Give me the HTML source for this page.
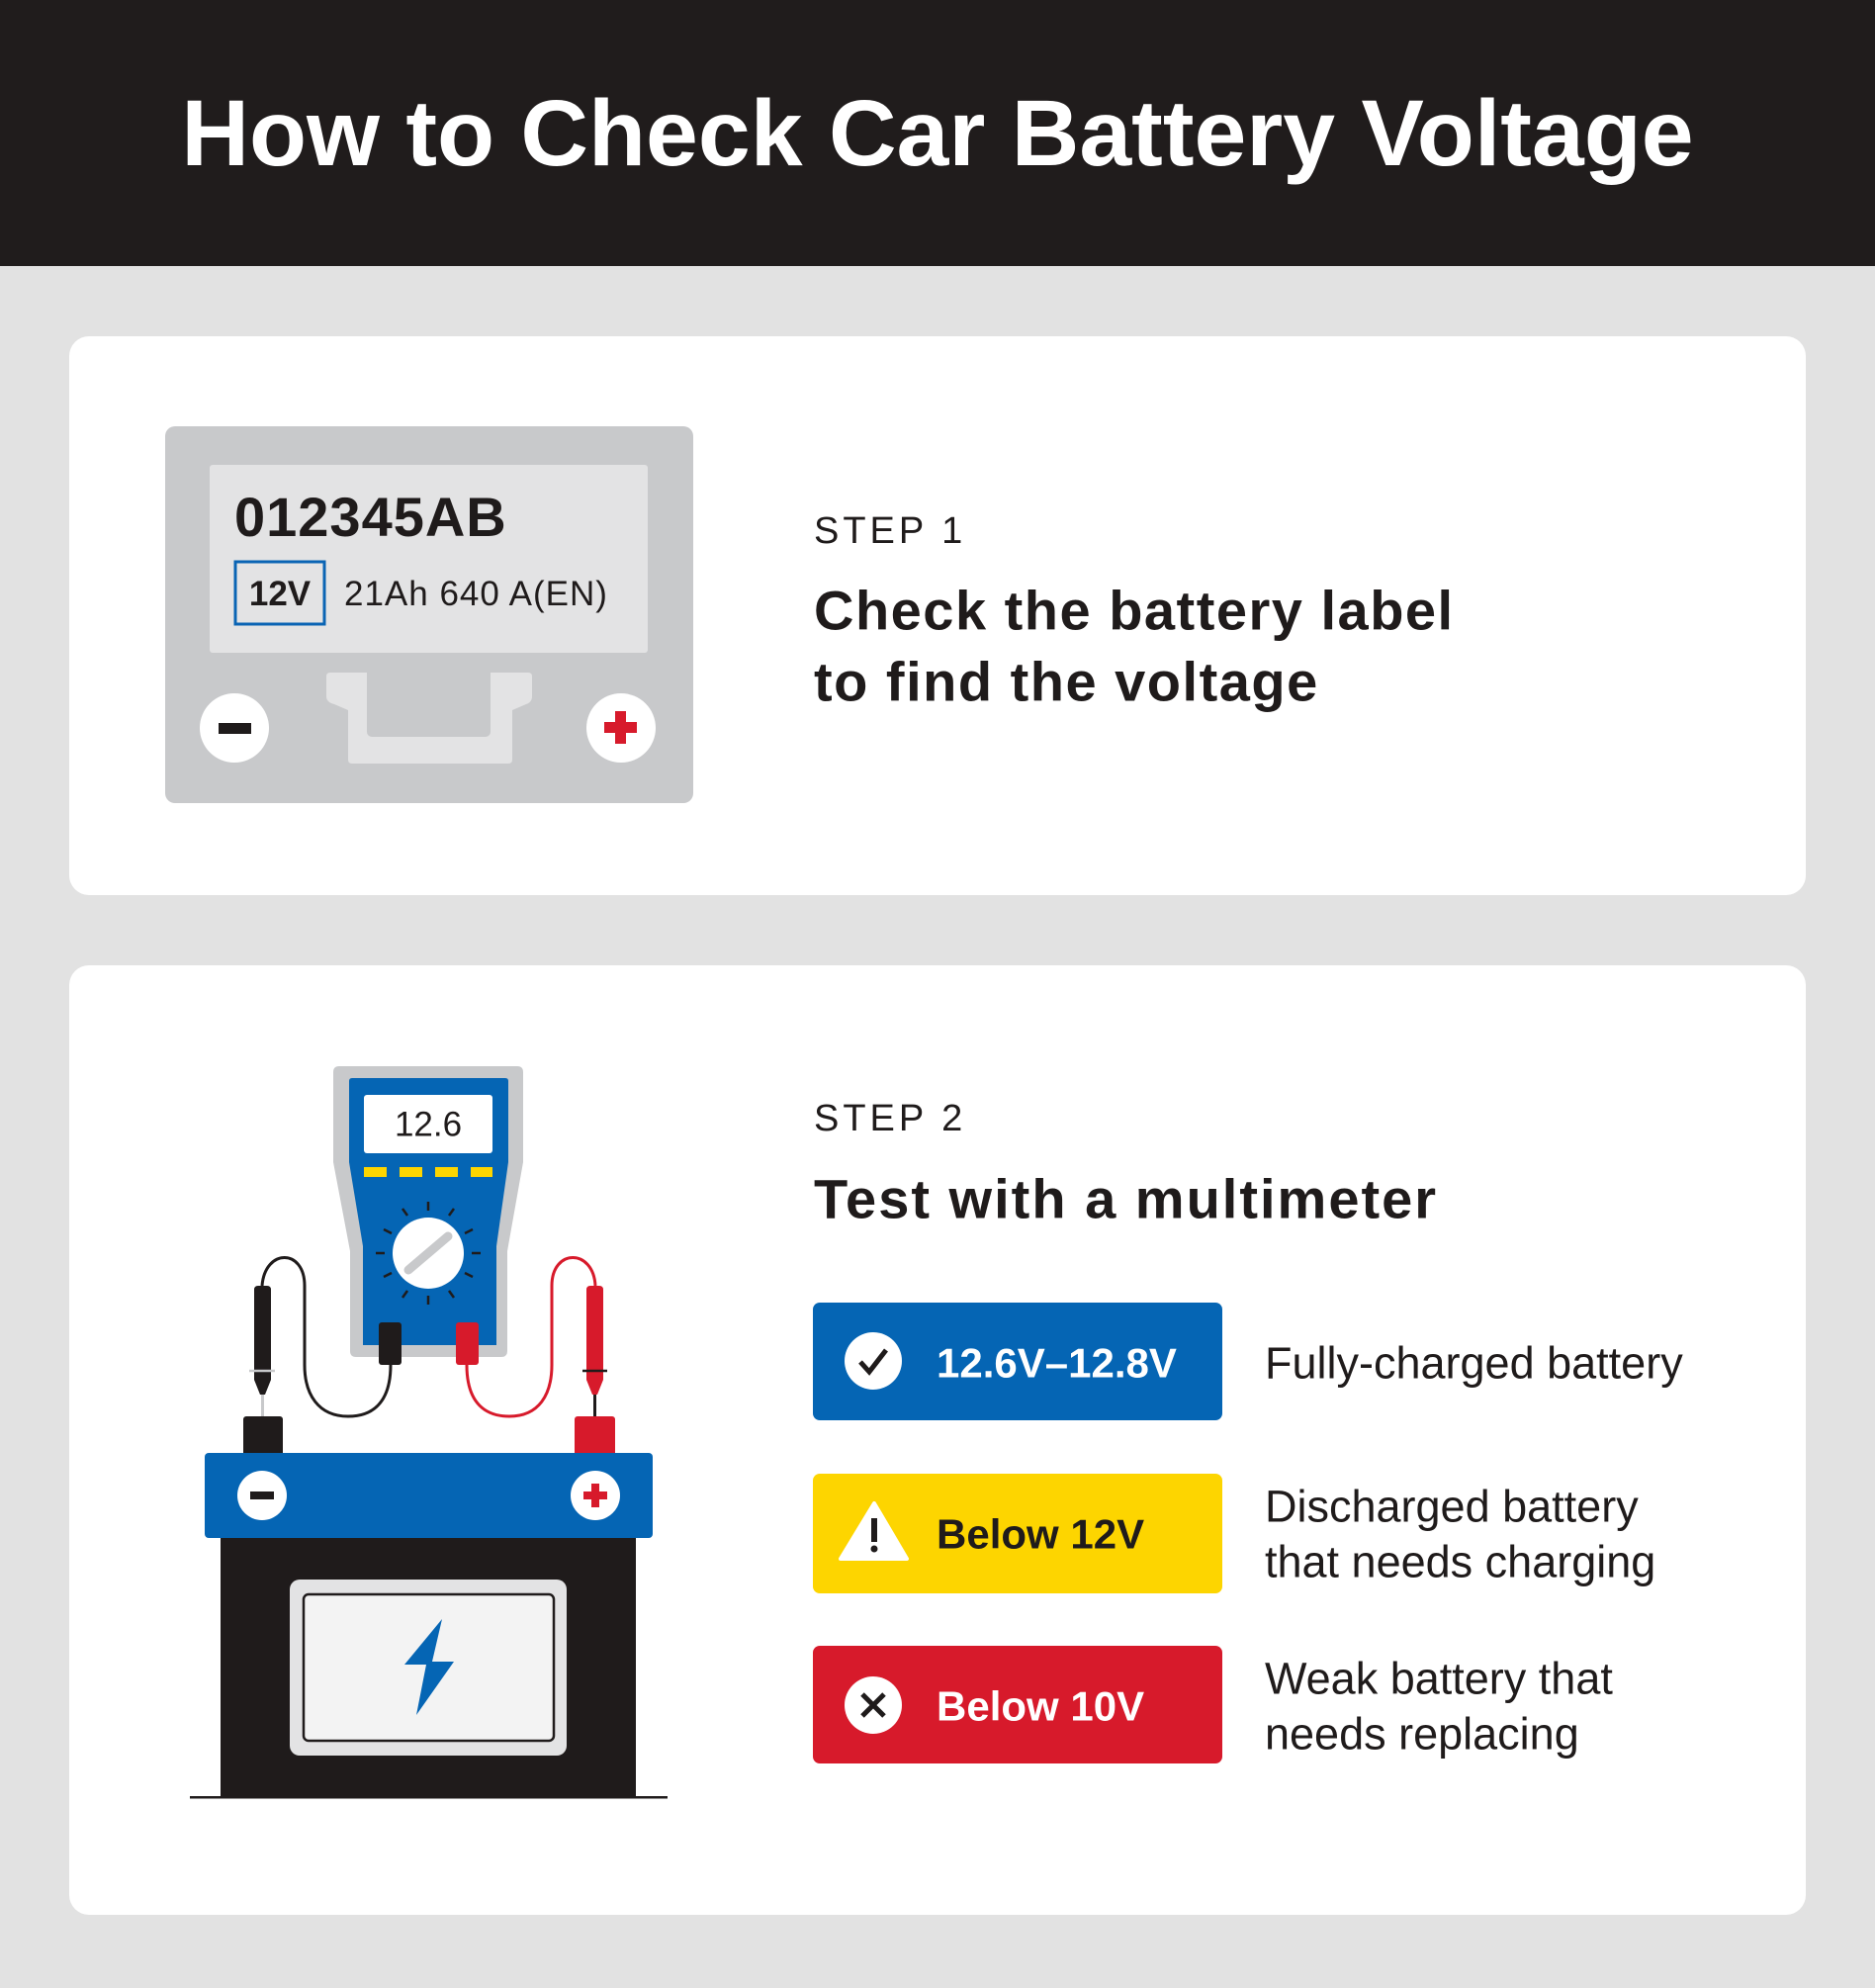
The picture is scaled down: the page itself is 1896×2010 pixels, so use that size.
<!DOCTYPE html>
<html><head><meta charset="utf-8"><style>
html,body{margin:0;padding:0;background:#e2e2e2;}
svg{display:block}
text{font-family:"Liberation Sans",sans-serif;}
</style></head><body>
<svg width="1896" height="2010" viewBox="0 0 1896 2010" xmlns="http://www.w3.org/2000/svg">
<rect width="1896" height="2010" fill="#e2e2e2"/>
<rect width="1896" height="269" fill="#201c1c"/>
<text x="948" y="135" font-size="95" font-weight="bold" fill="#fff" text-anchor="middle" dominant-baseline="central">How to Check Car Battery Voltage</text>

<rect x="70" y="340" width="1756" height="565" rx="20" fill="#fff"/>
<rect x="70" y="976" width="1756" height="960" rx="20" fill="#fff"/>

<!-- battery label -->
<rect x="167" y="431" width="534" height="381" rx="10" fill="#c8c9cb"/>
<rect x="212" y="470" width="443" height="190" rx="3" fill="#e3e3e4"/>
<text x="237" y="542" font-size="56" font-weight="bold" fill="#1f1b1b" letter-spacing="1">012345AB</text>
<rect x="238" y="568" width="90" height="63" fill="none" stroke="#0a64b4" stroke-width="3"/>
<text x="283" y="612" font-size="35" font-weight="bold" fill="#1f1b1b" text-anchor="middle">12V</text>
<text x="348" y="612" font-size="35" fill="#1f1b1b" letter-spacing="1">21Ah  640 A(EN)</text>
<path d="M334 680 H534 Q538 680 538 684 V704 Q538 710 532 712 L518 718 V768 Q518 772 514 772 H356 Q352 772 352 768 V718 L338 712 Q330 710 330 704 V684 Q330 680 334 680 Z" fill="#e3e3e4"/>
<rect x="371" y="670" width="125" height="75" rx="5" fill="#c8c9cb"/>
<circle cx="237" cy="736" r="35" fill="#fff"/>
<rect x="221" y="731" width="33" height="11" fill="#1f1b1b"/>
<circle cx="628" cy="736" r="35" fill="#fff"/>
<rect x="611" y="730" width="33" height="11" fill="#d71a2b"/>
<rect x="622" y="719" width="11" height="33" fill="#d71a2b"/>

<text x="823" y="537" font-size="38" fill="#1f1b1b" letter-spacing="4" dominant-baseline="central">STEP 1</text>
<text x="823" y="617" font-size="56" font-weight="bold" fill="#1f1b1b" letter-spacing="1.5" dominant-baseline="central">Check the battery label</text>
<text x="823" y="689" font-size="56" font-weight="bold" fill="#1f1b1b" letter-spacing="1.5" dominant-baseline="central">to find the voltage</text>

<text x="823" y="1131" font-size="38" fill="#1f1b1b" letter-spacing="4" dominant-baseline="central">STEP 2</text>
<text x="823" y="1212" font-size="56" font-weight="bold" fill="#1f1b1b" letter-spacing="2" dominant-baseline="central">Test with a multimeter</text>

<!-- badges -->
<rect x="822" y="1317" width="414" height="119" rx="7" fill="#0565b4"/>
<circle cx="883" cy="1376" r="29" fill="#fff"/>
<path d="M870 1377 L879 1387 L896 1365" fill="none" stroke="#1f1b1b" stroke-width="5"/>
<text x="947" y="1378" font-size="42" font-weight="bold" fill="#fff" dominant-baseline="central">12.6V–12.8V</text>

<rect x="822" y="1490" width="414" height="121" rx="7" fill="#fdd500"/>
<path d="M884 1520 L917 1576 H850 Z" fill="#fff" stroke="#fff" stroke-width="4" stroke-linejoin="round"/>
<rect x="881" y="1535" width="6" height="24" fill="#1f1b1b"/>
<circle cx="884" cy="1566" r="3.5" fill="#1f1b1b"/>
<text x="947" y="1551" font-size="42" font-weight="bold" fill="#1f1b1b" dominant-baseline="central">Below 12V</text>

<rect x="822" y="1664" width="414" height="119" rx="7" fill="#d71a2b"/>
<circle cx="883" cy="1724" r="29" fill="#fff"/>
<path d="M872 1713 L894 1735 M894 1713 L872 1735" stroke="#1f1b1b" stroke-width="5"/>
<text x="947" y="1725" font-size="42" font-weight="bold" fill="#fff" dominant-baseline="central">Below 10V</text>

<g font-size="45" fill="#1f1b1b">
<text x="1279" y="1378" dominant-baseline="central">Fully-charged battery</text>
<text x="1279" y="1523" dominant-baseline="central">Discharged battery</text>
<text x="1279" y="1579" dominant-baseline="central">that needs charging</text>
<text x="1279" y="1697" dominant-baseline="central">Weak battery that</text>
<text x="1279" y="1753" dominant-baseline="central">needs replacing</text>
</g>

<!-- multimeter illustration -->
<path d="M343 1078 H523 Q529 1078 529 1084 V1175 L513 1265 V1366 Q513 1372 507 1372 H360 Q354 1372 354 1366 V1265 L337 1175 V1084 Q337 1078 343 1078 Z" fill="#c8c9cb"/>
<path d="M356 1090 H511 Q514 1090 514 1093 V1175 L502 1260 V1360 H367 V1260 L353 1175 V1093 Q353 1090 356 1090 Z" fill="#0565b4"/>
<rect x="368" y="1107" width="130" height="59" rx="3" fill="#fff"/>
<text x="433" y="1137" font-size="35" fill="#1f1b1b" text-anchor="middle" dominant-baseline="central">12.6</text>
<g fill="#fdd500">
<rect x="368" y="1180" width="23" height="10"/><rect x="404" y="1180" width="23" height="10"/><rect x="440" y="1180" width="23" height="10"/><rect x="476" y="1180" width="22" height="10"/>
</g>
<g stroke="#1f1b1b" stroke-width="2.5">
<line x1="433" y1="1215" x2="433" y2="1224"/><line x1="433" y1="1310" x2="433" y2="1319"/>
<line x1="380" y1="1267" x2="389" y2="1267"/><line x1="477" y1="1267" x2="486" y2="1267"/>
<line x1="407" y1="1222" x2="412" y2="1229"/><line x1="459" y1="1222" x2="454" y2="1229"/>
<line x1="407" y1="1312" x2="412" y2="1305"/><line x1="459" y1="1312" x2="454" y2="1305"/>
<line x1="388" y1="1243" x2="396" y2="1247"/><line x1="478" y1="1243" x2="470" y2="1247"/>
<line x1="388" y1="1291" x2="396" y2="1287"/><line x1="478" y1="1291" x2="470" y2="1287"/>
</g>
<circle cx="433" cy="1267" r="36" fill="#fff"/>
<line x1="413" y1="1284" x2="453" y2="1250" stroke="#c8c9cb" stroke-width="9" stroke-linecap="round"/>
<!-- wires -->
<path d="M395 1380 C395 1420 375 1432 352 1432 C322 1432 308 1410 308 1380 L308 1300 C308 1262 268 1262 265 1300" fill="none" stroke="#1f1b1b" stroke-width="3"/>
<path d="M472 1380 C472 1420 492 1432 515 1432 C545 1432 558 1410 558 1380 L558 1300 C558 1262 600 1262 602 1300" fill="none" stroke="#d71a2b" stroke-width="3"/>
<rect x="383" y="1337" width="23" height="43" rx="3" fill="#1f1b1b"/>
<rect x="461" y="1337" width="23" height="43" rx="3" fill="#d71a2b"/>
<!-- probes -->
<rect x="264" y="1405" width="3" height="28" fill="#c8c9cb"/>
<path d="M257 1304 Q257 1300 261 1300 H270 Q274 1300 274 1304 V1395 L268 1410 H263 L257 1395 Z" fill="#1f1b1b"/>
<line x1="252" y1="1386" x2="278" y2="1386" stroke="#c8c9cb" stroke-width="2.5"/>
<rect x="600" y="1405" width="3" height="28" fill="#1f1b1b"/>
<path d="M593 1304 Q593 1300 597 1300 H606 Q610 1300 610 1304 V1395 L604 1410 H599 L593 1395 Z" fill="#d71a2b"/>
<line x1="589" y1="1386" x2="614" y2="1386" stroke="#1f1b1b" stroke-width="2.5"/>
<rect x="246" y="1432" width="40" height="40" rx="3" fill="#1f1b1b"/>
<rect x="581" y="1432" width="41" height="40" rx="3" fill="#d71a2b"/>
<!-- battery -->
<rect x="223" y="1553" width="420" height="264" fill="#1f1b1b"/>
<rect x="207" y="1469" width="453" height="86" rx="4" fill="#0565b4"/>
<circle cx="265" cy="1512" r="25" fill="#fff"/>
<rect x="253" y="1508" width="24" height="8" fill="#1f1b1b"/>
<circle cx="602" cy="1512" r="25" fill="#fff"/>
<rect x="590" y="1508" width="24" height="8" fill="#d71a2b"/>
<rect x="598" y="1500" width="8" height="24" fill="#d71a2b"/>
<rect x="293" y="1597" width="280" height="178" rx="10" fill="#e3e3e4"/>
<rect x="307" y="1612" width="253" height="148" rx="5" fill="#f3f3f3" stroke="#1f1b1b" stroke-width="2.5"/>
<path d="M447 1637 L409 1683 H431 L421 1734 L459 1680 H437 Z" fill="#0565b4"/>
<rect x="192" y="1816" width="483" height="2.5" fill="#1f1b1b"/>
</svg>
</body></html>
